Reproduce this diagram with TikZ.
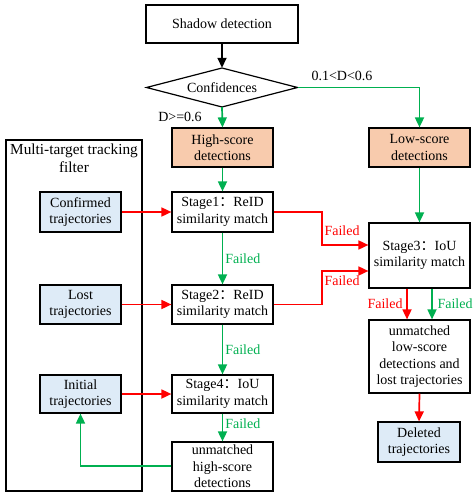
\documentclass[tikz,border=0pt]{standalone}
\usepackage{fontspec}
\setmainfont{Liberation Serif}
\newfontfamily\cjk{Noto Sans CJK SC}
\usetikzlibrary{arrows.meta,calc}
\definecolor{gr}{RGB}{0,176,80}
\definecolor{rd}{RGB}{255,0,0}
\definecolor{peach}{RGB}{248,203,173}
\definecolor{lblue}{RGB}{222,235,247}
\newcommand{\fc}{{\cjk ：}}
\begin{document}
\begin{tikzpicture}[x=1pt,y=-1pt,
  font=\fontsize{14}{16.5}\selectfont,
  box/.style={draw=black,line width=1.2pt,rectangle,inner sep=1pt,align=center,fill=white},
  hbox/.style={box,fill=peach},
  tbox/.style={box,fill=lblue},
  garr/.style={draw=gr,line width=1.7pt,-{Triangle[length=10pt,width=9pt]}},
  rarr/.style={draw=rd,line width=1.7pt,-{Triangle[length=10pt,width=9pt]}},
  barr/.style={draw=black,line width=1.7pt,-{Triangle[length=10pt,width=9pt]}},
  glab/.style={text=gr,inner sep=2pt},
  rlab/.style={text=rd,inner sep=2pt}]
\useasboundingbox (0,0) rectangle (474,497);
% filter box
\node[draw,line width=1.2pt,minimum width=136pt,minimum height=351pt,inner sep=0pt] (filter) at (74,315.5) {};
\node[align=center,anchor=north,inner sep=0pt,font=\fontsize{15.3}{18}\selectfont] (ftitle) at (74,144) {Multi-target tracking\\filter};
% top
\node[box,minimum width=152pt,minimum height=38pt] (shadow) at (222,24) {Shadow detection};
\draw[line width=1.2pt,fill=white] (146.5,87.5) -- (222,68) -- (297.5,87.5) -- (222,107) -- cycle;
\node[inner sep=0pt,minimum width=151pt,minimum height=39pt] (conf) at (222,87.5) {Confidences};
\node[hbox,minimum width=101pt,minimum height=39pt] (high) at (222.5,147.5) {High-score\\detections};
\node[hbox,minimum width=101pt,minimum height=39pt] (low) at (419.5,147.5) {Low-score\\detections};
% trajectories
\node[tbox,minimum width=81pt,minimum height=40pt] (confirmed) at (80.5,212) {Confirmed\\trajectories};
\node[tbox,minimum width=81pt,minimum height=39pt] (lost) at (80.5,304.5) {Lost\\trajectories};
\node[tbox,minimum width=81pt,minimum height=38pt] (initial) at (80.5,394) {Initial\\trajectories};
% stages
\node[box,minimum width=101pt,minimum height=40pt] (s1) at (222.5,212) {Stage1\fc ReID\\similarity match};
\node[box,minimum width=101pt,minimum height=39pt] (s2) at (222.5,304.5) {Stage2\fc ReID\\similarity match};
\node[box,minimum width=101pt,minimum height=38pt] (s4) at (222.5,394) {Stage4\fc IoU\\similarity match};
\node[box,minimum width=101pt,minimum height=49pt] (uh) at (222.5,466.5) {unmatched\\high-score\\detections};
\node[box,minimum width=101pt,minimum height=65pt] (s3) at (419.5,255.5) {Stage3\fc IoU\\similarity match};
\node[box,minimum width=101pt,minimum height=73pt] (ul) at (419.5,356.5) {unmatched\\low-score\\detections and\\lost trajectories};
\node[tbox,minimum width=82pt,minimum height=40pt] (del) at (419,442) {Deleted\\trajectories};
% coordinates
\coordinate (j1) at (322,212);
\coordinate (j1b) at (322,245);
\coordinate (j2) at (322,304.5);
\coordinate (j2b) at (322,271);
\coordinate (lowc) at (419.5,87.5);
\coordinate (back) at (80.5,466);
% arrows
\draw[barr] (shadow.south) -- (conf.north);
\draw[garr] (conf.south) -- (high.north);
\node[inner sep=0pt] (dge) at (180,117) {D>=0.6};
\draw[garr] (conf.east) -- (lowc) -- (low.north);
\node[inner sep=0pt] (dmid) at (342,76) {0.1<D<0.6};
\draw[garr] (high.south) -- (s1.north);
\draw[garr] (low.south) -- (s3.north);
\draw[rarr] (confirmed.east) -- (s1.west);
\draw[rarr] (lost.east) -- (s2.west);
\draw[rarr] (initial.east) -- (s4.west);
\draw[rarr] (s1.east) -- (j1) -- (j1b) -- (j1b -| s3.west);
\node[rlab] (f1) at (342,231) {Failed};
\draw[rarr] (s2.east) -- (j2) -- (j2b) -- (j2b -| s3.west);
\node[rlab] (f2) at (342,281) {Failed};
\draw[garr] (s1.south) -- (s2.north) node[glab,midway,right] (f3) {Failed};
\draw[garr] (s2.south) -- (s4.north) node[glab,midway,right] (f4) {Failed};
\draw[garr] (s4.south) -- (uh.north) node[glab,pos=0.35,right] (f5) {Failed};
\draw[garr] (uh.west |- back) -- (back) -- (initial.south);
\draw[rarr] ($(s3.south)+(-12.5,0)$) -- ($(ul.north)+(-12.5,0)$);
\node[rlab] (f6) at (385,304) {Failed};
\draw[garr] ($(s3.south)+(12.5,0)$) -- ($(ul.north)+(12.5,0)$);
\node[glab] (f7) at (455,304) {Failed};
\draw[rarr] (ul.south) -- (del.north);
\end{tikzpicture}
\end{document}
